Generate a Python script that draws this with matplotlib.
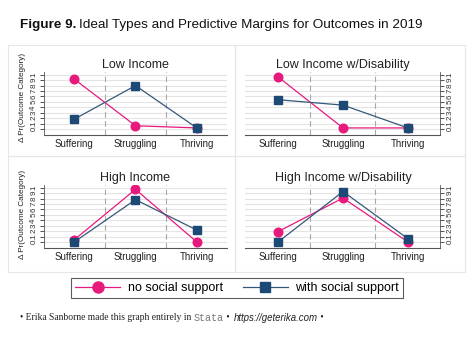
import matplotlib
matplotlib.use("Agg")
import matplotlib.pyplot as plt
from matplotlib.patches import Rectangle
from matplotlib.lines import Line2D

plt.rcParams['font.family'] = ['Liberation Sans', 'DejaVu Sans']

categories = ["Suffering", "Struggling", "Thriving"]
panel_titles = ["Low Income", "Low Income w/Disability", "High Income", "High Income w/Disability"]
no_support = [
    [0.92, 0.06, 0.02],
    [0.96, 0.02, 0.02],
    [0.04, 0.97, 0.00],
    [0.19, 0.81, 0.00],
]
with_support = [
    [0.18, 0.80, 0.02],
    [0.54, 0.44, 0.02],
    [0.00, 0.78, 0.22],
    [0.00, 0.93, 0.06],
]
ytick_vals = [0, .1, .2, .3, .4, .5, .6, .7, .8, .9, 1]
# the reference's crowded Stata labels read as "0.1234567891"
ytick_labels = ["0", ".1", "2", "3", "4", "5", "6", "7", "8", "9", "1"]
legend_labels = ["no social support", "with social support"]

PINK = "#E8197D"
NAVY = "#1C4A75"
NAVY_LINE = "#35587A"

W, H = 474, 344
fig = plt.figure(figsize=(W / 100, H / 100), dpi=100)

def fx(px):
    return px / W

def fy(py):
    return 1 - py / H

# panel boxes
boxes = [(8, 45, 235, 156), (235, 45, 465, 156), (8, 156, 235, 272), (235, 156, 465, 272)]
for (x0, y0, x1, y1) in boxes:
    fig.patches.append(Rectangle((fx(x0), fy(y1)), fx(x1 - x0), (y1 - y0) / H,
                                 transform=fig.transFigure, fill=False,
                                 edgecolor="#E6E6E6", linewidth=0.8))

# axes positions (pixels): left, right, top, bottom
ax_px = [(43.5, 227.5, 72, 135), (245.5, 440.5, 72, 135),
         (43.5, 227.5, 185, 248), (245.5, 440.5, 185, 248)]
ylabel_y = [0.6, None, 0.54, None]

x = [1, 2, 3]
for i, (l, r, t, b) in enumerate(ax_px):
    ax = fig.add_axes([fx(l), fy(b), fx(r - l), (b - t) / H])
    ax.set_xlim(0.5, 3.5)
    ax.set_ylim(-0.11, 1.05)
    for yv in ytick_vals:
        ax.axhline(yv, color="#E4E4E4", linewidth=0.8, zorder=0)
    for xv in [1.5, 2.5]:
        ax.axvline(xv, color="#A8A8A8", linewidth=0.8, linestyle=(0, (5, 3)), zorder=0)
    ax.plot(x, no_support[i], color=PINK, linewidth=0.9, marker="o", markersize=6.2,
            markerfacecolor=PINK, markeredgecolor=PINK, zorder=3)
    ax.plot(x, with_support[i], color=NAVY_LINE, linewidth=0.9, marker="s", markersize=6,
            markerfacecolor=NAVY, markeredgecolor=NAVY, zorder=4)
    ax.set_xticks(x)
    ax.set_xticklabels(categories, fontsize=7)
    ax.tick_params(axis="x", length=0, pad=3, colors="#222222")
    ax.set_yticks(ytick_vals)
    ax.set_yticklabels(ytick_labels, fontsize=5.8, rotation=90, va="center")
    right = (i % 2 == 1)
    ax.spines["top"].set_visible(False)
    ax.spines["bottom"].set_color("#555555")
    ax.spines["bottom"].set_linewidth(0.8)
    if right:
        ax.yaxis.tick_right()
        ax.spines["left"].set_visible(False)
        ax.spines["right"].set_color("#555555")
        ax.spines["right"].set_linewidth(0.6)
    else:
        ax.spines["right"].set_visible(False)
        ax.spines["left"].set_color("#555555")
        ax.spines["left"].set_linewidth(0.6)
        ax.set_ylabel("\u0394 Pr(Outcome Category)", fontsize=5.9, color="#222222")
        ax.yaxis.set_label_coords((26 - l) / (r - l), ylabel_y[i])
    ax.tick_params(axis="y", length=3, width=0.6, pad=1.5, colors="#333333")
    ax.set_title(panel_titles[i], fontsize=9, pad=3, color="#222222")

# legend
handles = [
    Line2D([0], [0], color=PINK, linewidth=0.9, marker="o", markersize=8,
           markerfacecolor=PINK, markeredgecolor=PINK),
    Line2D([0], [0], color=NAVY_LINE, linewidth=0.9, marker="s", markersize=7.5,
           markerfacecolor=NAVY, markeredgecolor=NAVY),
]
leg = fig.legend(handles, legend_labels, loc="center", bbox_to_anchor=(fx(237), fy(288)),
                 ncol=2, fontsize=9, frameon=True, fancybox=False, handlelength=3.6,
                 columnspacing=1.6, handletextpad=0.6, borderpad=0.35)
leg.get_frame().set_edgecolor("#333333")
leg.get_frame().set_linewidth(0.8)

# title
fig.canvas.draw()
renderer = fig.canvas.get_renderer()
t1 = fig.text(fx(20), fy(25), "Figure 9.", fontsize=9.7, fontweight="bold",
              va="center", ha="left", color="#111111")
bb = t1.get_window_extent(renderer)
fig.text(bb.x1 / W + fx(3), fy(25), "Ideal Types and Predictive Margins for Outcomes in 2019",
         fontsize=9.7, va="center", ha="left", color="#111111")

# footer
yf = fy(318)
serif = ["Liberation Serif", "DejaVu Serif"]
parts = [
    ("\u2022 Erika Sanborne made this graph entirely in ", dict(family=serif, fontsize=6.9, color="#222222")),
    ("Stata", dict(family=["Liberation Mono", "DejaVu Sans Mono"], fontsize=7.2, color="#777777")),
    (" \u2022  ", dict(family=serif, fontsize=6.9, color="#222222")),
    ("https://geterika.com", dict(family=["Liberation Sans", "DejaVu Sans"], fontsize=6.9, style="italic", color="#222222")),
    (" \u2022", dict(family=serif, fontsize=6.9, color="#222222")),
]
xpos = fx(20)
for txt, kw in parts:
    t = fig.text(xpos, yf, txt, va="center", ha="left", **kw)
    b = t.get_window_extent(renderer)
    xpos = b.x1 / W

fig.savefig("out.png", dpi=100)
